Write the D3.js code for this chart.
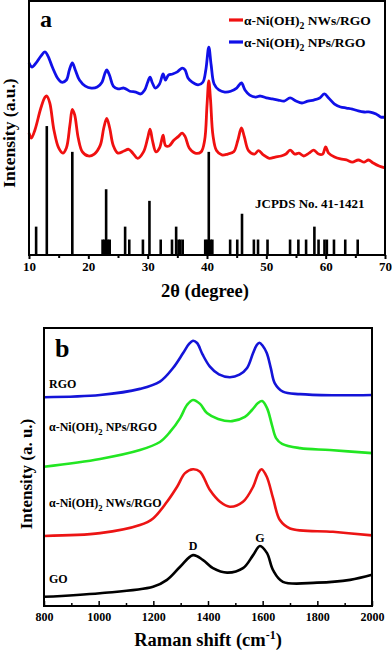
<!DOCTYPE html>
<html>
<head>
<meta charset="utf-8">
<script src="https://cdn.jsdelivr.net/npm/d3@7"></script>
<style>
  body { margin: 0; background: #fff; }
  svg { display: block; font-family: "Liberation Serif", "Times New Roman", serif; font-weight: bold; }
</style>
</head>
<body>
<div id="chart"></div>
<script>
// ---- panel a : XRD (2theta in degree, intensity in a.u.) ----
const nwsXrd = [
  [10, 94.6], [10.4, 90.7], [11, 97], [12, 114], [12.7, 122.5], [13, 123.3], [13.5, 118], [14.2, 97],
  [15, 83], [15.7, 79], [16.3, 83], [16.9, 101], [17.3, 113], [17.7, 108.6], [18.3, 90.7], [19, 80],
  [20, 76.8], [21, 78.3], [22, 85], [22.6, 98.5], [23.1, 106], [23.6, 98.5], [24.2, 85], [25, 79],
  [26, 80.7], [26.8, 82], [27.5, 79], [28.3, 75], [29.3, 80], [30, 90.7], [30.4, 97.7], [30.8, 89],
  [31.4, 80], [32, 83], [32.6, 93], [33, 85], [33.6, 84.5], [34.4, 89], [35.2, 92], [35.8, 94.6],
  [36.3, 92], [37, 83], [38, 79], [39, 80], [39.6, 89], [40, 116], [40.3, 135], [40.6, 120],
  [41, 93], [41.6, 81], [42.5, 77.6], [43.5, 78.3], [44.5, 80], [45.2, 89], [45.8, 98.5], [46.3, 91.5],
  [47, 81], [48, 78.3], [48.7, 81], [49.5, 77.6], [50.5, 75], [51.5, 76], [52.5, 76.8], [53.3, 78.3],
  [54, 81.4], [54.8, 78.3], [55.5, 79], [56.3, 76.8], [57.2, 79], [58, 81.4], [58.8, 78.3], [59.5, 78.3],
  [60, 83.8], [60.5, 79], [61.5, 76], [62.5, 74.5], [63.5, 73.7], [64.5, 72], [65.5, 73.7], [66.5, 72],
  [67.2, 73.7], [68, 71.4], [69, 69], [70, 67.5]
];
const npsXrd = [
  [10, 149], [10.5, 145.8], [11.2, 149], [12, 154.3], [12.7, 157.5], [13.2, 154.3], [14, 145], [14.8, 137.3],
  [15.5, 134], [16.3, 135.7], [16.8, 143.5], [17.3, 149], [17.8, 143.5], [18.5, 135.7], [19.5, 131], [20.5, 129.5],
  [21.5, 130.3], [22.3, 134], [22.8, 141], [23.1, 143.5], [23.6, 139], [24.2, 131], [25, 128.8], [26, 129.5],
  [27, 127], [28, 126.4], [28.8, 124.9], [29.5, 128], [30, 134], [30.4, 138], [30.8, 133.4], [31.3, 129.5],
  [32, 132.6], [32.6, 140.4], [33, 135.7], [33.5, 139.6], [34.2, 140.4], [35, 142], [35.8, 145], [36.3, 143.5],
  [36.8, 137.3], [37.5, 134], [38.5, 131.9], [39.3, 134], [39.8, 143.5], [40.3, 161.3], [40.7, 147.4], [41.2, 132.6],
  [42, 128], [43, 126.4], [44, 127], [45, 129.5], [45.8, 133.4], [46.4, 128], [47.2, 124], [48.2, 122.5],
  [49, 123.3], [50, 121.8], [51, 121], [52, 120.2], [53, 119.4], [54, 121.8], [55, 119.4], [56, 117.9],
  [57, 119.4], [58, 120.2], [59, 121.8], [59.8, 124.9], [60.5, 121.8], [61.5, 117.1], [62.5, 114.8], [63.5, 114],
  [64.5, 113.2], [65.5, 111.7], [66.5, 110.9], [67.5, 110.9], [68.5, 109.4], [69.3, 107], [70, 107]
];
const jcpdsAngle = [11.2, 13.0, 17.3, 22.4, 22.7, 23.0, 23.3, 23.6, 26.2, 26.9, 29.2, 30.3, 32.2, 34.1, 34.8,
  35.2, 35.5, 35.9, 39.7, 40.0, 40.3, 40.6, 40.9, 43.9, 45.1, 45.9, 47.9, 48.6, 50.2, 54.0, 55.4, 56.7,
  58.1, 58.8, 59.8, 60.2, 61.4, 63.3, 65.4];
const jcpdsIntensity = [22, 100, 80, 12, 12, 51, 12, 12, 22, 12, 12, 42, 12, 12, 22,
  12, 12, 12, 12, 12, 80, 12, 12, 12, 12, 32, 12, 12, 12, 12, 12, 12,
  22, 12, 12, 12, 12, 12, 12];
const xrdMajorTicks = [10, 20, 30, 40, 50, 60, 70];
const xrdMinorTicks = [15, 25, 35, 45, 55, 65];

// ---- panel b : Raman (shift in cm-1, intensity in a.u.) ----
const rgoRaman = [
  [800, 75.1], [1005, 75.9], [1151, 78.1], [1224, 80.7], [1272, 85.6], [1309, 91], [1330, 94.2], [1345, 95.4],
  [1360, 94.6], [1380, 90.5], [1407, 86.1], [1440, 83.3], [1480, 82.3], [1515, 83.2], [1543, 85.6], [1565, 91],
  [1578, 93.8], [1588, 94.7], [1600, 93.6], [1615, 91], [1630, 85.5], [1644, 80.2], [1674, 77.1], [1737, 76.2],
  [1857, 75.8], [2000, 75.9]
];
const npsRaman = [
  [800, 50.1], [1005, 52.9], [1151, 56.1], [1224, 59], [1261, 62.6], [1298, 67.6], [1323, 72.3], [1345, 74.1],
  [1371, 72.7], [1396, 69.4], [1437, 67.3], [1488, 66.5], [1535, 68], [1561, 70.5], [1583, 73], [1598, 73.7],
  [1616, 71.2], [1634, 65.1], [1649, 60.4], [1671, 58.3], [1737, 56.8], [1846, 56.1], [2000, 55]
];
const nwsRaman = [
  [800, 25.2], [1005, 26.2], [1151, 29.1], [1199, 31.5], [1250, 37.5], [1287, 42.9], [1316, 47.8], [1345, 49.2],
  [1371, 48.3], [1407, 41.7], [1444, 37.5], [1480, 35.7], [1528, 37.5], [1565, 42.9], [1585, 48], [1596, 49.2],
  [1615, 46.5], [1638, 38.8], [1663, 30.9], [1700, 27.9], [1857, 26.7], [2000, 25.4]
];
const goRaman = [
  [800, 3.3], [1005, 4.6], [1199, 6.9], [1250, 9.4], [1298, 14.1], [1345, 18.3], [1382, 16.5], [1418, 13.6],
  [1470, 12], [1528, 13.6], [1565, 18.3], [1590, 21.6], [1616, 19], [1638, 12.9], [1674, 8.7], [1799, 8.4],
  [1920, 9.4], [2000, 11.2]
];
const ramanMajorTicks = [800, 1000, 1200, 1400, 1600, 1800, 2000];
const ramanMinorTicks = [900, 1100, 1300, 1500, 1700, 1900];

const width = 392;
const height = 650;

const svg = d3.select("#chart").append("svg")
  .attr("width", width)
  .attr("height", height);

// subscript helper: "α-Ni(OH)" + "2" + rest
function niLabel(sel, rest, size) {
  sel.append("tspan").text("α-Ni(OH)");
  sel.append("tspan").attr("dy", size * 0.3).attr("font-size", size * 0.72).text("2");
  sel.append("tspan").attr("dy", -size * 0.3).text(" " + rest);
}

// ================= panel a =================
const xA = d3.scaleLinear().domain([10, 70]).range([29, 385]);
const yA = d3.scaleLinear().domain([0, 197]).range([255, 1]);

const gA = svg.append("g");

gA.append("g")
  .attr("transform", "translate(0,255)")
  .call(d3.axisBottom(xA).tickValues(xrdMinorTicks).tickFormat("").tickSize(3))
  .call(g => g.select(".domain").remove())
  .call(g => g.selectAll("line").attr("stroke-width", 2));

gA.append("g")
  .attr("transform", "translate(0,255)")
  .call(d3.axisBottom(xA).tickValues(xrdMajorTicks).tickFormat(d3.format("d")).tickSize(4).tickPadding(3))
  .call(g => g.select(".domain").remove())
  .call(g => g.selectAll("line").attr("stroke-width", 2))
  .call(g => g.selectAll("text")
    .attr("font-family", "Liberation Serif, serif")
    .attr("font-weight", "bold")
    .attr("font-size", 13)
    .attr("fill", "#000"));

gA.append("g")
  .selectAll("line")
  .data(jcpdsAngle)
  .enter().append("line")
  .attr("x1", d => xA(d))
  .attr("x2", d => xA(d))
  .attr("y1", yA(0))
  .attr("y2", (d, i) => yA(jcpdsIntensity[i]))
  .attr("stroke", "#000")
  .attr("stroke-width", 2.6);

const lineA = d3.line()
  .x(d => xA(d[0]))
  .y(d => yA(d[1]))
  .curve(d3.curveCatmullRom.alpha(0.5));

gA.append("path")
  .datum(nwsXrd)
  .attr("d", lineA)
  .attr("fill", "none")
  .attr("stroke", "#f01010")
  .attr("stroke-width", 2.8);

gA.append("path")
  .datum(npsXrd)
  .attr("d", lineA)
  .attr("fill", "none")
  .attr("stroke", "#1010e8")
  .attr("stroke-width", 2.8);

gA.append("rect")
  .attr("x", 29).attr("y", 1)
  .attr("width", 356).attr("height", 254)
  .attr("fill", "none")
  .attr("stroke", "#000")
  .attr("stroke-width", 2);

gA.append("text").attr("x", 40).attr("y", 27).attr("font-size", 24).text("a");

// legend
const legendA = [
  { name: "NWs/RGO", color: "#f01010", y: 20 },
  { name: "NPs/RGO", color: "#1010e8", y: 42 }
];
legendA.forEach(d => {
  gA.append("line")
    .attr("x1", 229).attr("x2", 243)
    .attr("y1", d.y).attr("y2", d.y)
    .attr("stroke", d.color)
    .attr("stroke-width", 3.2);
  gA.append("text")
    .attr("x", 244).attr("y", d.y + 5)
    .attr("font-size", 13.5)
    .call(s => niLabel(s, d.name, 13.5));
});

gA.append("text")
  .attr("x", 255).attr("y", 208)
  .attr("font-size", 13)
  .text("JCPDS No. 41-1421");

gA.append("text")
  .attr("transform", "translate(15,133) rotate(-90)")
  .attr("text-anchor", "middle")
  .attr("font-size", 17.5)
  .text("Intensity (a.u.)");

gA.append("text")
  .attr("x", 205).attr("y", 297)
  .attr("text-anchor", "middle")
  .attr("font-size", 18.5)
  .text("2θ (degree)");

// ================= panel b =================
const xB = d3.scaleLinear().domain([800, 2000]).range([44, 372]);
const yB = d3.scaleLinear().domain([0, 100]).range([606, 328]);

const gB = svg.append("g");

gB.append("g")
  .attr("transform", "translate(0,606)")
  .call(d3.axisBottom(xB).tickValues(ramanMinorTicks).tickFormat("").tickSize(-3))
  .call(g => g.select(".domain").remove())
  .call(g => g.selectAll("line").attr("stroke-width", 1.5));

gB.append("g")
  .attr("transform", "translate(0,606)")
  .call(d3.axisBottom(xB).tickValues(ramanMajorTicks).tickFormat(d3.format("d")).tickSize(-5).tickPadding(6))
  .call(g => g.select(".domain").remove())
  .call(g => g.selectAll("line").attr("stroke-width", 1.5))
  .call(g => g.selectAll("text")
    .attr("font-family", "Liberation Serif, serif")
    .attr("font-weight", "bold")
    .attr("font-size", 12)
    .attr("fill", "#000"));

const lineB = d3.line()
  .x(d => xB(d[0]))
  .y(d => yB(d[1]))
  .curve(d3.curveCatmullRom.alpha(0.5));

const ramanSeries = [
  { data: rgoRaman, color: "#1414d8" },
  { data: npsRaman, color: "#22e622" },
  { data: nwsRaman, color: "#ec1414" },
  { data: goRaman, color: "#000" }
];

gB.selectAll("path.raman")
  .data(ramanSeries)
  .enter().append("path")
  .attr("class", "raman")
  .attr("d", d => lineB(d.data))
  .attr("fill", "none")
  .attr("stroke", d => d.color)
  .attr("stroke-width", 2.6);

gB.append("rect")
  .attr("x", 44).attr("y", 328)
  .attr("width", 328).attr("height", 278)
  .attr("fill", "none")
  .attr("stroke", "#000")
  .attr("stroke-width", 2);

gB.append("text").attr("x", 55).attr("y", 357).attr("font-size", 26).text("b");

gB.append("text").attr("x", 49).attr("y", 388).attr("font-size", 12).text("RGO");
gB.append("text").attr("x", 49).attr("y", 431).attr("font-size", 12).call(s => niLabel(s, "NPs/RGO", 12));
gB.append("text").attr("x", 49).attr("y", 507).attr("font-size", 12).call(s => niLabel(s, "NWs/RGO", 12));
gB.append("text").attr("x", 49).attr("y", 583).attr("font-size", 12).text("GO");

gB.append("text").attr("x", xB(1345)).attr("y", 550).attr("text-anchor", "middle").attr("font-size", 12).text("D");
gB.append("text").attr("x", xB(1590)).attr("y", 542).attr("text-anchor", "middle").attr("font-size", 12).text("G");

gB.append("text")
  .attr("transform", "translate(32,474) rotate(-90)")
  .attr("text-anchor", "middle")
  .attr("font-size", 17)
  .text("Intensity (a. u.)");

const titleB = gB.append("text")
  .attr("x", 208).attr("y", 646)
  .attr("text-anchor", "middle")
  .attr("font-size", 18.5);
titleB.append("tspan").text("Raman shift (cm");
titleB.append("tspan").attr("dy", -7).attr("font-size", 12).text("-1");
titleB.append("tspan").attr("dy", 7).text(")");
</script>
</body>
</html>
